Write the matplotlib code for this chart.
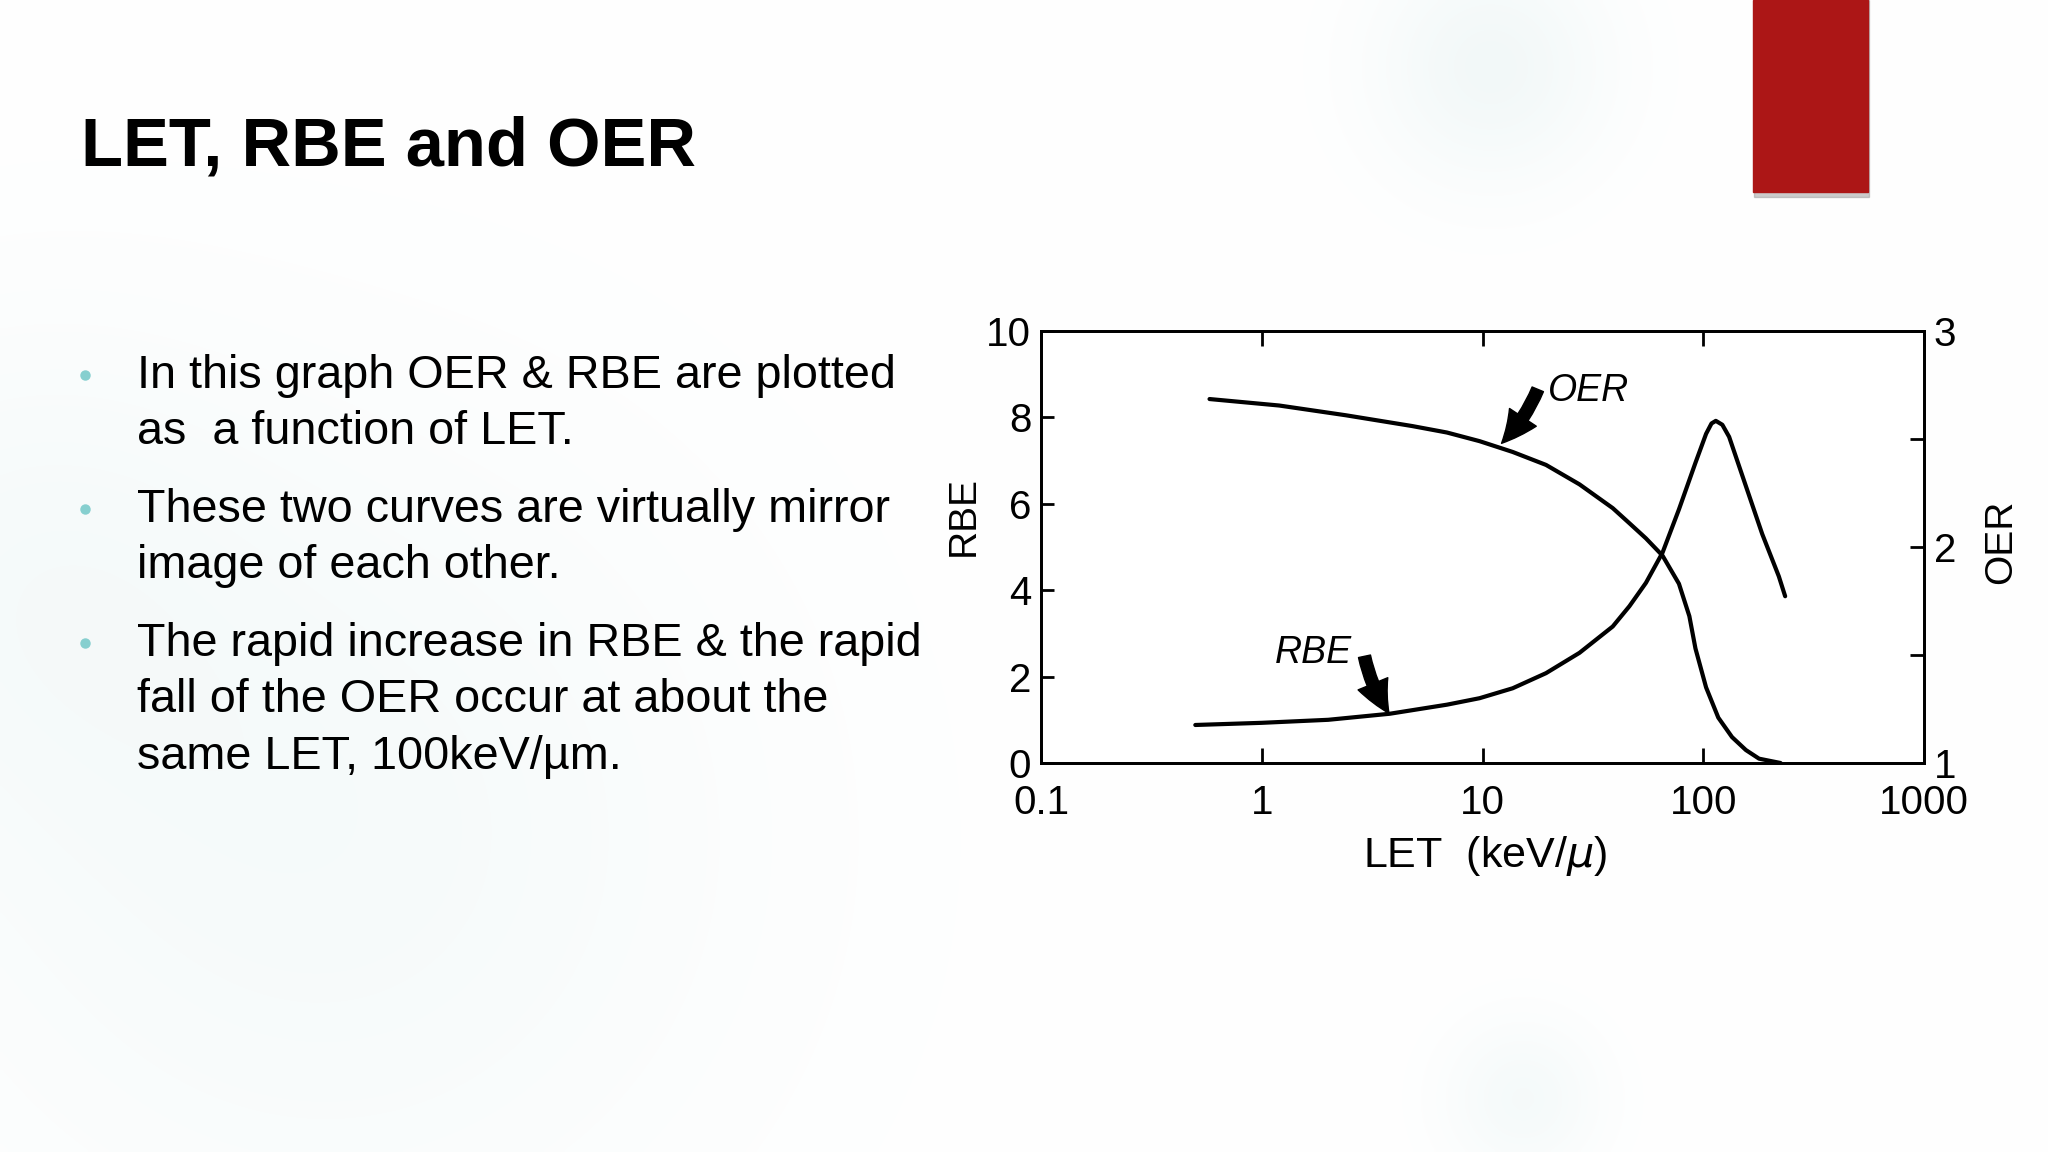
import numpy as np
import matplotlib
matplotlib.use("Agg")
import matplotlib.pyplot as plt
from matplotlib.patches import Rectangle

plt.rcParams['font.family'] = ['Liberation Sans', 'DejaVu Sans']

# --- データ ---
# RBE curve (left axis)
let_rbe = [0.5, 1.0, 2.0, 3.8, 6.9, 9.7, 13.7, 19.4, 27.5, 38.9, 46.3, 55, 65.4, 77.6,
           92.2, 103, 109, 114, 122, 131, 156, 185, 220, 235]
rbe = [0.88, 0.93, 1.0, 1.14, 1.35, 1.50, 1.73, 2.08, 2.55, 3.16, 3.63, 4.17, 4.87, 5.87,
       6.95, 7.62, 7.86, 7.92, 7.83, 7.55, 6.41, 5.3, 4.32, 3.86]

# OER curve (right axis)
let_oer = [0.58, 1.2, 2.4, 4.8, 6.9, 9.7, 13.7, 19.4, 27.5, 38.9, 46.3, 55, 65.4, 77.6,
           86.5, 92.2, 103, 117, 135, 156, 179, 224]
oer = [2.685, 2.655, 2.61, 2.56, 2.53, 2.49, 2.44, 2.38, 2.29, 2.18, 2.11, 2.04, 1.96, 1.83,
       1.68, 1.53, 1.35, 1.21, 1.12, 1.06, 1.02, 1.00]

x_ticks = [0.1, 1, 10, 100, 1000]
x_ticklabels = ['0.1', '1', '10', '100', '1000']
rbe_ticks = [0, 2, 4, 6, 8, 10]
oer_ticks = [1, 1.5, 2, 2.5, 3]
oer_ticklabels = ['1', '', '2', '', '3']

title = 'LET, RBE and OER'
bullets = [
    ['In this graph OER & RBE are plotted', 'as  a function of LET.'],
    ['These two curves are virtually mirror', 'image of each other.'],
    ['The rapid increase in RBE & the rapid', 'fall of the OER occur at about the',
     'same LET, 100keV/\u00b5m.'],
]

W, H = 2048, 1152
fig = plt.figure(figsize=(W / 100, H / 100), dpi=100)

# --- 背景（うすい水色のぼかし） ---
bg = fig.add_axes([0, 0, 1, 1], zorder=-10)
yy, xx = np.mgrid[0:H:4, 0:W:4]
blobs = [(326, 836, 430, 0.09), (1489, 65, 118, 0.13), (1521, 1097, 80, 0.10), (0, 560, 260, 0.06)]
inten = np.zeros(xx.shape)
for cx, cy, r, s in blobs:
    inten += s * np.exp(-((xx - cx) ** 2 + (yy - cy) ** 2) / r ** 2)
teal = np.array([0.62, 0.80, 0.80])
img = 1 - inten[..., None] * (1 - teal)
bg.imshow(img, extent=[0, W, H, 0], interpolation='bilinear', aspect='auto')
bg.set_xlim(0, W)
bg.set_ylim(H, 0)
bg.axis('off')

# red block top right
bg.add_patch(Rectangle((1754, 0), 115, 197, color='#9a9a9a', alpha=0.5, zorder=2))
bg.add_patch(Rectangle((1753, 0), 115, 192, color='#AC1616', zorder=3))

# --- タイトルと本文 ---
fig.text(81 / W, 1 - 166 / H, title, fontsize=49.5, fontweight='bold', va='baseline')

y = 388
for item in bullets:
    bg.plot([85], [y - 13], 'o', color='#86CFCF', markersize=6.5, zorder=3)
    for line in item:
        fig.text(137 / W, 1 - y / H, line, fontsize=33.7, va='baseline')
        y += 56.5
    y += 21

# --- グラフ ---
ax = fig.add_axes([1041 / W, 1 - 763 / H, (1924 - 1041) / W, (763 - 331) / H])
ax.set_facecolor('white')
ax2 = ax.twinx()

ax.plot(let_rbe, rbe, color='black', lw=3.0, solid_capstyle='round', solid_joinstyle='round')
ax2.plot(let_oer, oer, color='black', lw=3.0, solid_capstyle='round', solid_joinstyle='round')

ax.set_xscale('log')
ax.set_xlim(0.1, 1000)
ax.set_ylim(0, 10)
ax2.set_ylim(1, 3)

ax.set_xticks(x_ticks)
ax.set_xticklabels(x_ticklabels)
ax.minorticks_off()
ax.set_yticks(rbe_ticks)
ax2.set_yticks(oer_ticks)
ax2.set_yticklabels(oer_ticklabels)

for a in (ax, ax2):
    for sp in a.spines.values():
        sp.set_linewidth(2.0)
ax.tick_params(axis='x', which='both', direction='in', top=True, length=11, width=2,
               labelsize=29, pad=15)
ax.tick_params(axis='y', direction='in', length=9, width=2, labelsize=29, pad=7)
ax2.tick_params(axis='y', direction='in', length=10, width=2, labelsize=29, pad=7)

ax.text(-0.088, 0.572, 'RBE', transform=ax.transAxes, rotation=90, fontsize=28,
        ha='center', va='center')
ax.text(1.087, 0.512, 'OER', transform=ax.transAxes, rotation=90, fontsize=28,
        ha='center', va='center')
ax.text(0.503, -0.215, 'LET  (keV/$\\mu$)', transform=ax.transAxes, fontsize=31,
        ha='center', va='center')

arrow = dict(arrowstyle='simple,head_length=1.1,head_width=1.05,tail_width=0.4',
             fc='black', ec='black', shrinkA=0, shrinkB=0, mutation_scale=22,
             connectionstyle='arc3,rad=-0.1')
ax2.annotate('', xy=(12.2, 2.48), xytext=(17.8, 2.73), arrowprops=arrow)
ax2.text(30.2, 2.72, 'OER', fontsize=27, style='italic', ha='center', va='center')

arrow2 = dict(arrow, connectionstyle='arc3,rad=0.1')
ax.annotate('', xy=(3.77, 1.15), xytext=(2.92, 2.47), arrowprops=arrow2)
ax.text(1.72, 2.54, 'RBE', fontsize=27, style='italic', ha='center', va='center')

fig.savefig('out.png', dpi=100)
